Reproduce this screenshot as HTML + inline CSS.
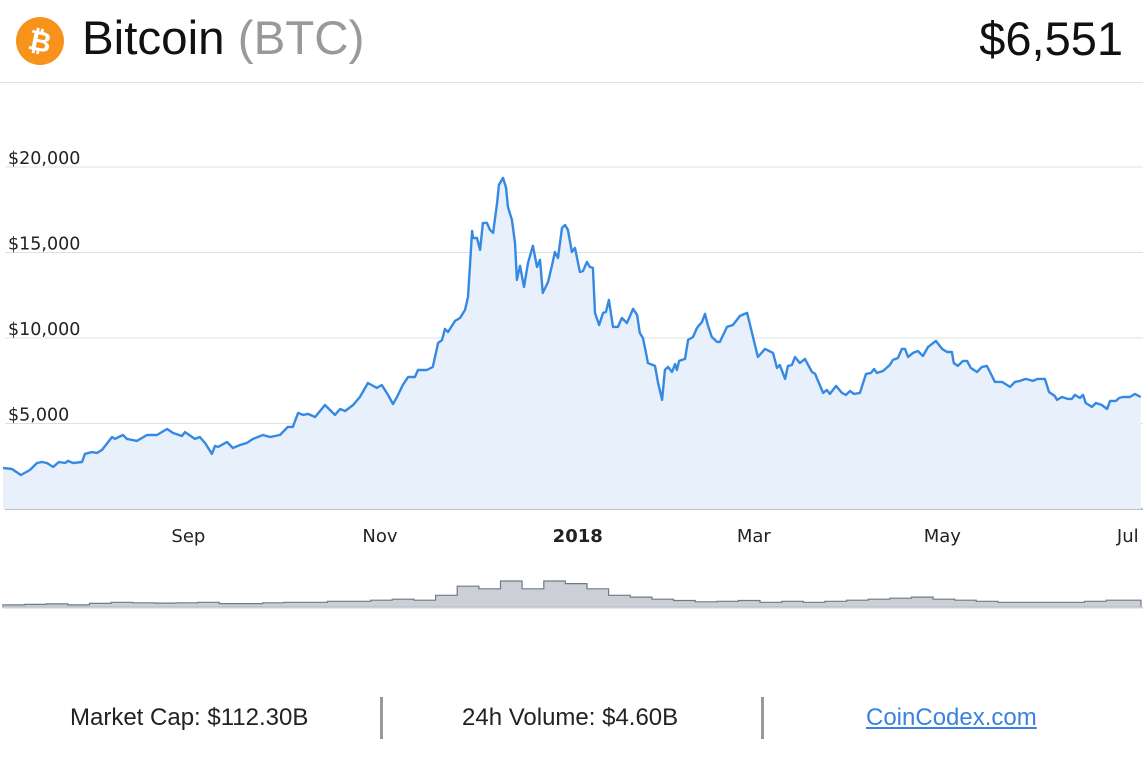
<!DOCTYPE html>
<html><head><meta charset="utf-8">
<style>
html,body{margin:0;padding:0;background:#fff;}
body{width:1143px;height:768px;position:relative;overflow:hidden;font-family:"Liberation Sans",sans-serif;}
#hdr-line{position:absolute;left:0;top:82px;width:1143px;height:1px;background:#e0e0e0;}
.title{position:absolute;left:82px;top:11px;font-size:47.5px;color:#111;}
.title span{color:#999;}
.price{position:absolute;right:20px;top:11px;font-size:47px;color:#111;}
.foot{position:absolute;top:704px;font-size:24px;color:#222;}
.sep{position:absolute;top:697px;width:3px;height:42px;background:#999;}
a{color:#3b82e0;}
</style></head><body>
<svg style="position:absolute;left:15px;top:16px" width="50" height="50">
<circle cx="25" cy="25" r="24" fill="#f7931a"/>
<text x="25" y="35" text-anchor="middle" font-family="Liberation Sans,sans-serif" font-weight="bold" font-size="28" fill="#fff" transform="rotate(12 25 25)">₿</text>
</svg>
<div class="title">Bitcoin <span>(BTC)</span></div>
<div class="price">$6,551</div>
<div id="hdr-line"></div>
<svg id="chart" style="position:absolute;left:0;top:0" width="1143" height="640"></svg>
<div class="foot" style="left:70px">Market Cap: $112.30B</div>
<div class="sep" style="left:380px"></div>
<div class="foot" style="left:462px">24h Volume: $4.60B</div>
<div class="sep" style="left:761px"></div>
<div class="foot" style="left:866px"><a href="#">CoinCodex.com</a></div>
<script>
const days=[0,2.9,5.8,8.7,11.0,12.6,14.2,16.2,18.1,20.1,21.0,22.7,25.6,26.5,28.8,30.4,32.0,35.3,36.2,38.8,40.1,43.3,46.6,49.8,53.1,55.0,57.9,58.9,62.1,63.7,65.4,67.6,68.6,69.6,72.5,74.4,76.7,78.9,80.9,84.1,86.4,89.6,92.2,93.8,95.5,97.1,98.7,101.0,104.2,107.4,109.1,110.7,113.3,115.5,118.1,121.0,122.6,124.6,126.2,127.5,129.4,131.1,133.3,134.3,137.2,139.1,140.8,142.1,143.0,144.0,146.3,147.9,149.5,150.5,151.8,152.1,153.4,154.4,155.3,156.6,157.6,158.6,159.9,160.5,161.8,162.8,163.4,164.7,165.7,166.3,167.3,168.6,169.9,171.5,172.8,173.8,174.7,176.4,177.7,178.6,179.6,180.9,181.9,182.8,184.1,185.1,186.7,187.7,189.0,189.9,190.9,191.6,192.9,194.2,195.1,196.1,197.4,199.0,200.3,201.9,203.9,205.2,206.1,207.1,208.1,208.7,211.0,212.0,213.3,214.2,215.2,216.5,217.5,218.1,218.8,220.7,221.7,223.3,224.6,226.2,227.2,228.1,229.4,231.1,232.0,234.3,236.2,238.5,240.8,242.4,244.3,246.6,249.2,250.5,251.4,253.1,254.0,255.3,256.3,257.9,259.5,261.8,262.8,265.4,266.6,267.6,269.6,271.5,272.8,274.1,275.4,277.3,279.3,280.9,281.9,282.8,284.8,287.0,288.0,289.6,290.9,291.9,292.9,294.5,296.1,297.7,299.4,301.9,303.9,305.5,307.1,307.7,309.0,310.7,312.0,313.2,315.2,316.8,318.4,321.0,323.3,325.9,327.5,329.1,331.0,333.3,334.9,337.2,338.5,340.4,341.1,342.7,344.6,345.9,346.9,348.5,349.5,350.4,352.4,353.7,355.6,357.3,358.3,360.2,361.2,362.4,363.7,364.7,366.3,368.2];
const prices=[2400,2340,1990,2280,2690,2750,2690,2460,2750,2690,2810,2690,2750,3220,3330,3280,3450,4210,4100,4330,4100,3980,4330,4330,4680,4450,4270,4500,4100,4210,3860,3220,3690,3630,3920,3570,3740,3860,4100,4330,4210,4330,4800,4800,5620,5500,5560,5380,6080,5500,5850,5730,6080,6550,7370,7080,7250,6670,6140,6550,7250,7720,7720,8130,8130,8310,9710,9890,10530,10350,11000,11170,11640,12400,16260,15850,15850,15150,16730,16730,16320,16150,17900,18950,19360,18780,17670,16910,15560,13400,14220,12990,14390,15390,14160,14570,12640,13280,14270,15030,14680,16440,16610,16320,15030,15270,13860,13920,14450,14160,14100,11470,10760,11470,11520,12230,10650,10650,11170,10880,11700,11350,10300,10000,9130,8540,8370,7370,6380,8130,8310,8010,8480,8130,8660,8780,9890,10060,10590,10940,11410,10760,10060,9770,9770,10650,10760,11290,11470,10300,8890,9360,9130,8250,8420,7610,8370,8420,8890,8540,8780,8010,7900,6790,6960,6730,7200,6790,6670,6900,6730,6790,7900,7960,8190,7960,8070,8420,8720,8830,9360,9360,8890,9130,9240,8950,9480,9830,9360,9180,9180,8540,8370,8660,8660,8250,8010,8310,8370,7430,7430,7140,7430,7490,7610,7490,7610,7610,6840,6610,6380,6550,6440,6440,6670,6490,6670,6200,5970,6200,6080,5850,6320,6320,6490,6550,6550,6550,6730,6550];
const volumes=[0.8,1,1.2,0.8,1.4,1.8,1.6,1.5,1.6,1.8,1.3,1.3,1.6,1.8,1.8,2.2,2.2,2.6,3,2.6,4.5,8,7,10,7,10,9,7,4.5,3.8,3,2.5,2,2.2,2.5,1.8,2.2,1.8,2.2,2.6,3,3.4,3.8,3,2.6,2.2,1.8,1.8,1.8,1.8,2.2,2.6,2.6];
const yTicks=[0,5000,10000,15000,20000];
const yTickLabels=["$0.00","$5,000","$10,000","$15,000","$20,000"];
const xTickDays=[60,122,186,243,304,364];
const xTickLabels=["Sep","Nov","2018","Mar","May","Jul"];
const NS="http://www.w3.org/2000/svg";
const svg=document.getElementById('chart');
const X=d=>3+d*3.09;
const Y=p=>509-p*342/20000;
const VY=v=>607-v*2.6;
function mk(t,a){const e=document.createElementNS(NS,t);for(const k in a)e.setAttribute(k,a[k]);svg.appendChild(e);return e;}
yTicks.forEach((t,i)=>{
 const l=mk('line',{x1:5,x2:1143,y1:Y(t),y2:Y(t),stroke:i==0?'#aaa':'#e0e0e0','stroke-width':i==0?1.5:1});
 
 
 const tx=mk('text',{x:8,y:Y(t)-3,'font-size':17.5,'font-family':'DejaVu Sans,sans-serif',fill:'#222'});
 tx.textContent=yTickLabels[i];
 
 
});
let d='M'+X(days[0])+','+Y(prices[0]);
for(let i=1;i<days.length;i++)d+='L'+X(days[i]).toFixed(1)+','+Y(prices[i]).toFixed(1);
const area=mk('path',{d:d+'L'+X(days[days.length-1])+','+Y(0)+'L'+X(0)+','+Y(0)+'Z',fill:'#e8f0fc'});


const line=mk('path',{d:d,fill:'none',stroke:'#3589e3','stroke-width':2.4,'stroke-linejoin':'round'});


xTickDays.forEach((t,i)=>{
 const tx=mk('text',{x:X(t),y:542,'text-anchor':'middle','font-size':18,'font-family':'DejaVu Sans,sans-serif',fill:'#222','font-weight':xTickLabels[i]=='2018'?'bold':'normal'});
 tx.textContent=xTickLabels[i];
 
 
});
let vd='M'+X(0)+','+VY(0);
volumes.forEach((v,i)=>{const x0=X(i*7),x1=Math.min(X((i+1)*7),1141);vd+='L'+x0.toFixed(1)+','+VY(v).toFixed(1)+'L'+x1.toFixed(1)+','+VY(v).toFixed(1);});
vd+='L1141,'+VY(0)+'Z';
const vol=mk('path',{d:vd,fill:'#ccd0d6',stroke:'#707a85','stroke-width':1.2});


const vb=mk('line',{x1:3,x2:1143,y1:607.5,y2:607.5,stroke:'#ccd0d6','stroke-width':2});


</script>
</body></html>
